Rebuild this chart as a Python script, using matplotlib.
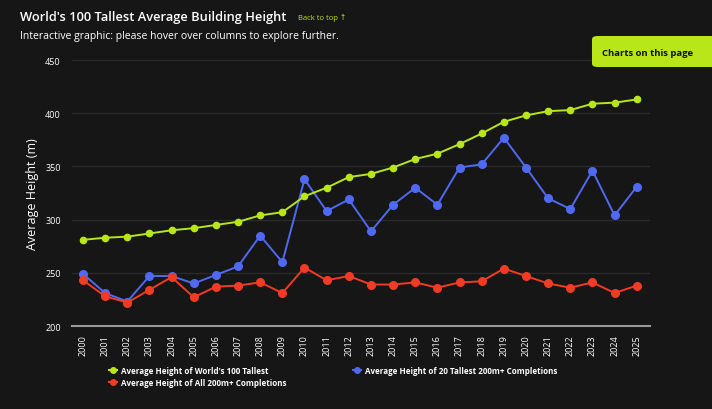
import matplotlib.pyplot as plt
from matplotlib.patches import FancyBboxPatch
from matplotlib.lines import Line2D

plt.rcParams['font.family'] = ['Open Sans', 'DejaVu Sans']

years = list(range(2000, 2026))
tallest_100 = [281, 283, 284, 287, 290, 292, 295, 298, 304, 307, 322, 330, 340, 343,
               349, 357, 362, 371, 381, 392, 398, 402, 403, 409, 410, 413]
top20_200m = [249, 231, 223, 247, 247, 240, 248, 256, 285, 260, 338, 308, 319, 289,
              314, 330, 314, 349, 352, 377, 349, 320, 310, 346, 304, 331]
all_200m = [243, 228, 222, 234, 246, 227, 237, 238, 241, 231, 255, 243, 247, 239,
            239, 241, 236, 241, 242, 254, 247, 240, 236, 241, 231, 238]

bg = "#161616"
green = "#b8e619"
blue = "#5069f2"
red = "#f03b25"

fig = plt.figure(figsize=(7.12, 4.10), dpi=100, facecolor=bg)
ax = fig.add_axes([0.101, 0.2024, 0.812, 0.6486], facecolor=bg)

x = list(range(len(years)))
ax.plot(x, tallest_100, color=green, lw=1.4, marker="o", ms=4.5, zorder=3)
ax.plot(x, top20_200m, color=blue, lw=1.4, marker="o", ms=5.5, zorder=2)
ax.plot(x, all_200m, color=red, lw=1.4, marker="o", ms=5.5, zorder=2)

ax.set_xlim(-0.5, 25.6)
ax.set_ylim(200, 450)
ax.set_yticks(range(200, 451, 50))
ax.set_xticks(x)
ax.set_xticklabels([str(y) for y in years], rotation=90, fontsize=6.5, color="white")
ax.tick_params(axis="y", colors="white", labelsize=6.5, length=0, pad=8)
ax.tick_params(axis="x", length=0, pad=6)
ax.grid(axis="y", color="#2a2a2a", lw=1)
ax.set_axisbelow(True)
for s in ["top", "right", "left"]:
    ax.spines[s].set_visible(False)
ax.spines["bottom"].set_color("#9a9a9a")
ax.spines["bottom"].set_linewidth(1.5)
ax.set_ylabel("Average Height (m)", color="white", fontsize=9, labelpad=4)

# titles
fig.text(20 / 712, 1 - 17 / 410, "World's 100 Tallest Average Building Height",
         color="white", fontsize=9.3, fontweight="semibold", va="center")
fig.text(298 / 712, 1 - 18 / 410, "Back to top \u2191", color=green, fontsize=5.5, va="center")
fig.text(20 / 712, 1 - 37 / 410, "Interactive graphic: please hover over columns to explore further.",
         color="white", fontsize=7.5, va="center")

# button
btn = FancyBboxPatch((592 / 712, 1 - 68 / 410), 130 / 712, 31 / 410,
                     boxstyle="round,pad=0,rounding_size=0.008",
                     transform=fig.transFigure, facecolor=green, edgecolor="none")
fig.patches.append(btn)
fig.text(602 / 712, 1 - 53 / 410, "Charts on this page", color="#111111",
         fontsize=6.8, fontweight="bold", va="center")

# legend
handles = [
    Line2D([], [], color=green, marker="o", ms=4, lw=1.5),
    Line2D([], [], color=red, marker="o", ms=4, lw=1.5),
    Line2D([], [], color=blue, marker="o", ms=4, lw=1.5),
]
labels = ["Average Height of World's 100 Tallest",
          "Average Height of All 200m+ Completions",
          "Average Height of 20 Tallest 200m+ Completions"]
leg = fig.legend(handles, labels, ncol=2, loc="upper left",
                 bbox_to_anchor=(102 / 712, 1 - 360 / 410), frameon=False,
                 prop={"size": 5.8, "weight": "bold"}, labelcolor="white",
                 handlelength=1.0, handletextpad=0.5, columnspacing=8.2,
                 labelspacing=0.35)

fig.savefig("out.png", dpi=100, facecolor=bg)
